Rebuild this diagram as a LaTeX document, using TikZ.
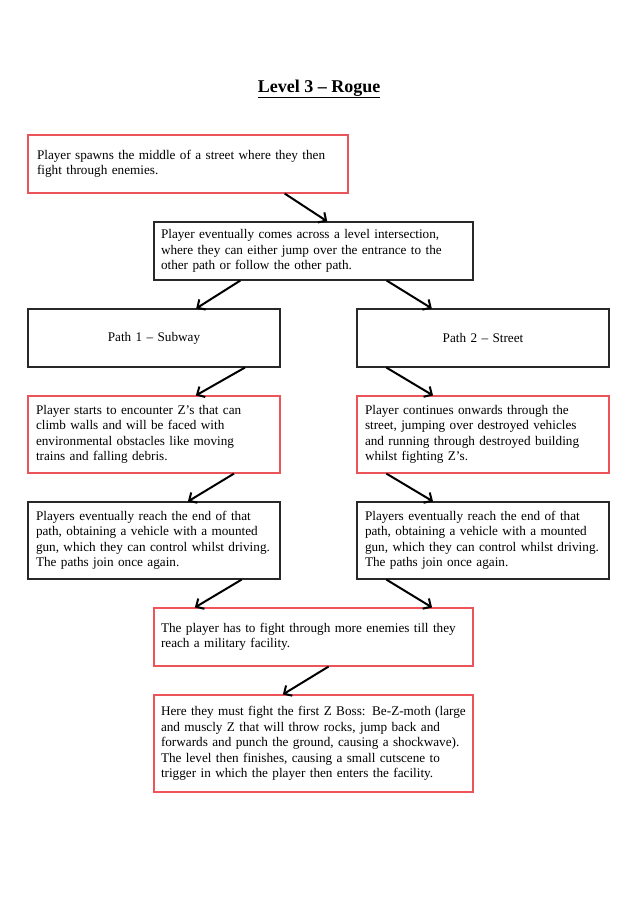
\documentclass[tikz,border=0pt]{standalone}
\usepackage{fontspec}
\setmainfont{Liberation Serif}
\usetikzlibrary{arrows.meta}
\definecolor{boxred}{RGB}{236,84,90}
\definecolor{boxgray}{RGB}{40,40,40}
\tikzset{
  stage/.style={draw=boxgray, line width=1.1pt, rectangle, inner sep=0pt, align=left,
    font=\fontsize{13.2}{15.5}\selectfont},
  redstage/.style={stage, draw=boxred},
  wide/.style={minimum width=319pt, text width=305pt},
  half/.style={minimum width=252pt, text width=236pt},
  flow/.style={line width=2pt, -{Straight Barb[length=6pt,width=12pt,line width=2pt]}}
}
\begin{document}
\begin{tikzpicture}[x=1pt, y=-1pt]
\useasboundingbox (0,0) rectangle (638,904);

\node (title) at (319,89) {\fontsize{18}{21}\selectfont\underline{\textbf{Level 3 – Rogue}}};

\node (spawn)[redstage, minimum width=320pt, text width=302pt, minimum height=58pt] at (188,164)
  {Player spawns the middle of a street where they then\\fight through enemies.};
\node (cross)[stage, wide, minimum height=58pt] at (313.5,251)
  {Player eventually comes across a level intersection,\\where they can either jump over the entrance to the\\other path or follow the other path.};
\node (subway)[stage, half, minimum height=58pt, align=center] at (154,338) {Path 1 – Subway};
\node (street)[stage, half, minimum height=58pt, align=center] at (483,338) {Path 2 – Street};
\node (climb)[redstage, half, minimum height=77pt] at (154,434.5)
  {Player starts to encounter Z’s that can\\climb walls and will be faced with\\environmental obstacles like moving\\trains and falling debris.};
\node (onwards)[redstage, half, minimum height=77pt] at (483,434.5)
  {Player continues onwards through the\\street, jumping over destroyed vehicles\\and running through destroyed building\\whilst fighting Z’s.};
\node (endA)[stage, half, minimum height=77pt] at (154,540.5)
  {Players eventually reach the end of that\\path, obtaining a vehicle with a mounted\\gun, which they can control whilst driving.\\The paths join once again.};
\node (endB)[stage, half, minimum height=77pt] at (483,540.5)
  {Players eventually reach the end of that\\path, obtaining a vehicle with a mounted\\gun, which they can control whilst driving.\\The paths join once again.};
\node (facility)[redstage, wide, minimum height=58pt] at (313.5,637)
  {The player has to fight through more enemies till they\\reach a military facility.};
\node (boss)[redstage, wide, minimum height=97pt] at (313.5,743.5)
  {Here they must fight the first Z Boss: Be-Z-moth (large\\and muscly Z that will throw rocks, jump back and\\forwards and punch the ground, causing a shockwave).\\The level then finishes, causing a small cutscene to\\trigger in which the player then enters the facility.};

% arrows between the stages
\draw[flow](spawn.-17)--(cross.65);
\draw[flow](cross.-158)--(subway.35);\draw[flow](cross.-22)--(street.150);
\draw[flow](subway.-18)--(climb.43);\draw[flow](street.-163)--(onwards.142);
\draw[flow](climb.-26)--(endA.49);\draw[flow](onwards.-158)--(endB.142);
\draw[flow](endA.-24)--(facility.166);\draw[flow](endB.-158)--(facility.14);
\draw[flow](facility.-63)--(boss.122);
\end{tikzpicture}
\end{document}
